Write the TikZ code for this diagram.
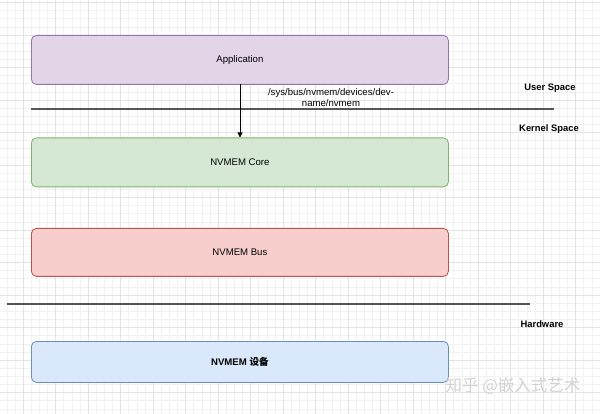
\documentclass[tikz,border=0pt]{standalone}
\usepackage{fontspec}
\setmainfont{Liberation Sans}
\newfontfamily\cjk{Noto Sans CJK SC}
\usetikzlibrary{arrows.meta}
\definecolor{appfill}{HTML}{E1D5E7}\definecolor{appdraw}{HTML}{9673A6}
\definecolor{corefill}{HTML}{D5E8D4}\definecolor{coredraw}{HTML}{82B366}
\definecolor{busfill}{HTML}{F8CECC}\definecolor{busdraw}{HTML}{B85450}
\definecolor{devfill}{HTML}{DAE8FC}\definecolor{devdraw}{HTML}{6C8EBF}
\definecolor{gridminor}{HTML}{F2F2F2}\definecolor{gridmajor}{HTML}{E4E4E4}
\definecolor{sepline}{HTML}{555555}
\tikzset{
  layerbox/.style={rounded corners=5pt, line width=0.8pt, minimum width=417pt, minimum height=49pt, inner sep=0pt, font=\fontsize{9.6}{11}\selectfont, anchor=north west},
  sidelabel/.style={font=\bfseries\fontsize{9.4}{11}\selectfont, inner sep=0pt},
  sepline/.style={draw=sepline, line width=1.1pt},
}
\begin{document}
\begin{tikzpicture}[x=1pt,y=-1pt]
\useasboundingbox (0,0) rectangle (600,414);
\fill[white] (0,0) rectangle (600,414);
% grid
\foreach \i in {0,...,74} {
  \draw[gridminor, line width=0.5pt] ({-9.5+8.125*\i},0) -- ({-9.5+8.125*\i},414);
}
\foreach \i in {0,...,51} {
  \draw[gridminor, line width=0.5pt] (0,{2.5+8.125*\i}) -- (600,{2.5+8.125*\i});
}
\foreach \i in {0,...,18} {
  \draw[gridmajor, line width=0.6pt] ({-9.5+32.5*\i},0) -- ({-9.5+32.5*\i},414);
}
\foreach \i in {0,...,12} {
  \draw[gridmajor, line width=0.6pt] (0,{2.5+32.5*\i}) -- (600,{2.5+32.5*\i});
}
% boxes
\node[layerbox, fill=appfill, draw=appdraw] (app) at (31,35) {Application};
\node[layerbox, fill=corefill, draw=coredraw] (core) at (31,137.5) {NVMEM Core};
\node[layerbox, fill=busfill, draw=busdraw, minimum height=48pt] (bus) at (31,228) {NVMEM Bus};
\node[layerbox, fill=devfill, draw=devdraw, minimum height=41pt, font=\bfseries\fontsize{9.6}{11}\selectfont] (dev) at (31,341) {NVMEM {\cjk\bfseries 设备}};
% separators
\coordinate (s1a) at (31,109);\coordinate (s1b) at (554,109);
\coordinate (s2a) at (7,304);\coordinate (s2b) at (530,304);
\draw[sepline] (s1a) -- (s1b);
\draw[sepline] (s2a) -- (s2b);
% arrow
\coordinate (arrtop) at (240,84);
\draw[-{Triangle[length=5pt,width=5pt]}, line width=0.8pt] (arrtop) -- (arrtop |- core.north)
  node[pos=0.25, xshift=91pt, anchor=center, align=center, font=\fontsize{9.6}{11}\selectfont, inner sep=0pt] (path) {/sys/bus/nvmem/devices/dev-\\name/nvmem};
% side labels
\node[sidelabel] (us) at (550,88) {User Space};
\node[sidelabel] (ks) at (549,129) {Kernel Space};
\node[sidelabel] (hw) at (542,324.5) {Hardware};
% watermark
\node[font=\cjk\fontsize{16.5}{18}\selectfont, text=gray!35, inner sep=0pt] (wm) at (513,386) {知乎 @嵌入式艺术};
\end{tikzpicture}
\end{document}
